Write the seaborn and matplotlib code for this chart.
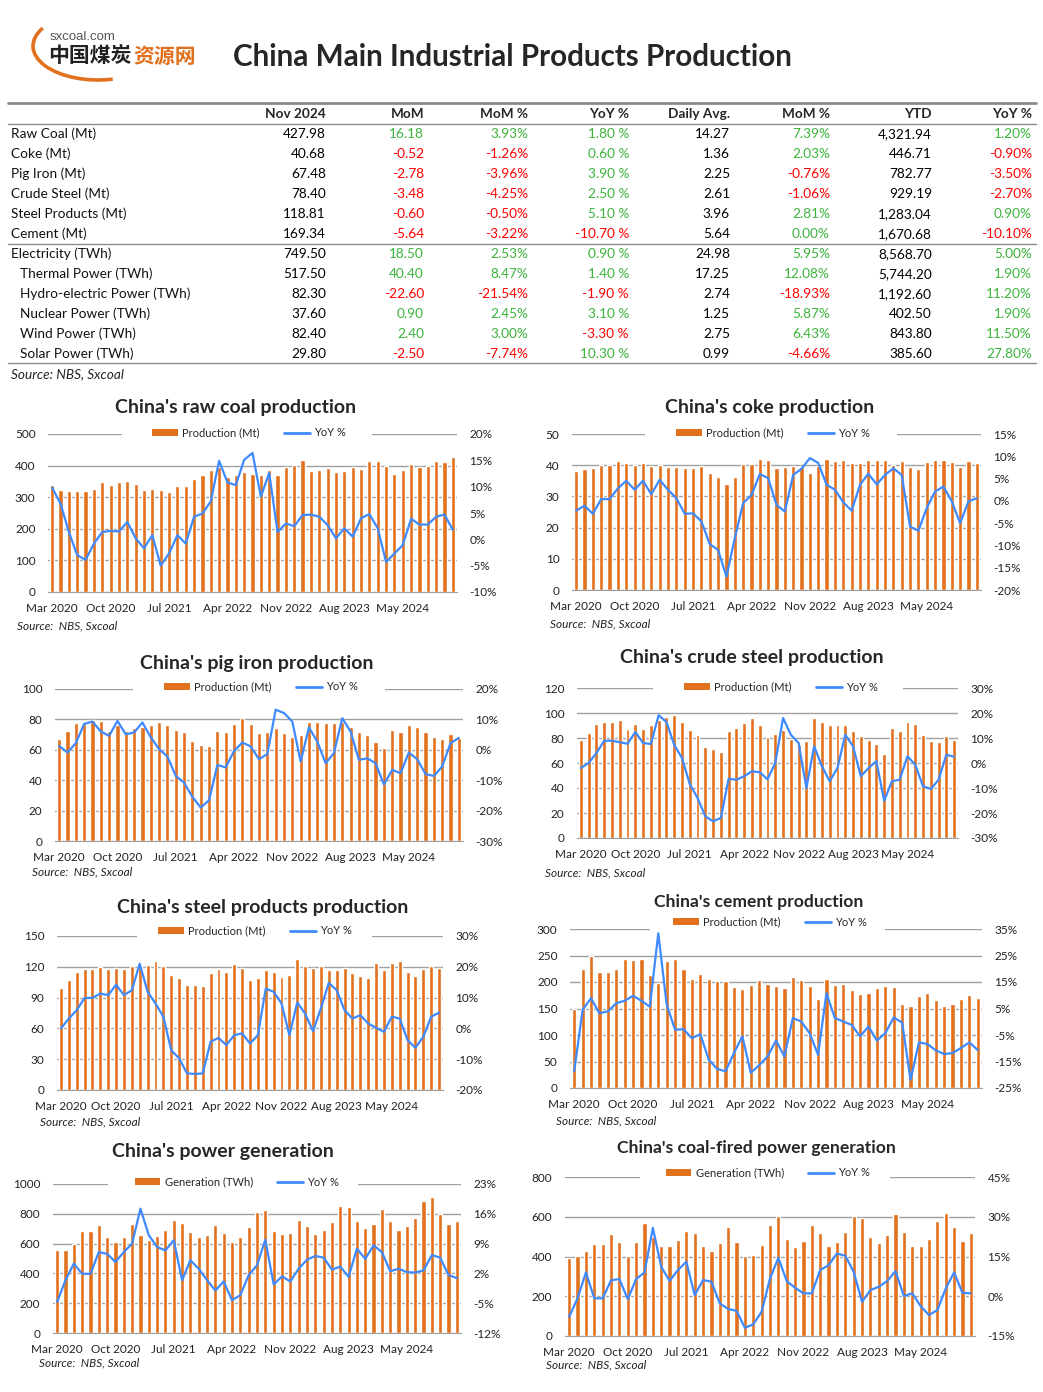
import calendar
import numpy as np
import seaborn as sns
import matplotlib.pyplot as plt
from matplotlib.patches import Patch, Rectangle, Arc
from matplotlib.lines import Line2D
from matplotlib.ticker import FuncFormatter

sns.set_style("white")
plt.rcParams['font.family'] = ['Lato', 'DejaVu Sans']

ORANGE = '#E2711D'
BLUE = '#3F8AFF'
GRID = '#A0A0A0'
GREEN = '#3CB43C'
RED = '#FF0000'

# months: Mar 2020 .. Nov 2024, Jan/Feb not reported separately
months = []
for yr in range(2020, 2025):
    for m in range(3, 13):
        if yr == 2024 and m > 11:
            break
        months.append(f"{calendar.month_abbr[m]} {yr}")

# Table data
items = ["Raw Coal (Mt)", "Coke (Mt)", "Pig Iron (Mt)", "Crude Steel (Mt)",
         "Steel Products (Mt)", "Cement (Mt)", "Electricity (TWh)",
         "Thermal Power (TWh)", "Hydro-electric Power (TWh)",
         "Nuclear Power (TWh)", "Wind Power (TWh)", "Solar Power (TWh)"]
indented = [False] * 7 + [True] * 5
nov_2024 = [427.98, 40.68, 67.48, 78.40, 118.81, 169.34, 749.50, 517.50, 82.30, 37.60, 82.40, 29.80]
mom = [16.18, -0.52, -2.78, -3.48, -0.60, -5.64, 18.50, 40.40, -22.60, 0.90, 2.40, -2.50]
mom_pct = [3.93, -1.26, -3.96, -4.25, -0.50, -3.22, 2.53, 8.47, -21.54, 2.45, 3.00, -7.74]
yoy_pct = [1.80, 0.60, 3.90, 2.50, 5.10, -10.70, 0.90, 1.40, -1.90, 3.10, -3.30, 10.30]
daily_avg = [14.27, 1.36, 2.25, 2.61, 3.96, 5.64, 24.98, 17.25, 2.74, 1.25, 2.75, 0.99]
daily_mom_pct = [7.39, 2.03, -0.76, -1.06, 2.81, 0.00, 5.95, 12.08, -18.93, 5.87, 6.43, -4.66]
ytd = [4321.94, 446.71, 782.77, 929.19, 1283.04, 1670.68, 8568.70, 5744.20, 1192.60, 402.50, 843.80, 385.60]
ytd_yoy = [1.20, -0.90, -3.50, -2.70, 0.90, -10.10, 5.00, 1.90, 11.20, 1.90, 11.50, 27.80]

# Chart data
raw_coal_prod = [339, 323, 320, 320, 320, 326, 347, 339, 347, 352,
                 342, 323, 326, 323, 317, 336, 337, 358, 371, 387,
                 396, 365, 371, 380, 374, 371, 387, 371, 394, 401,
                 418, 383, 387, 393, 380, 383, 394, 390, 415, 415,
                 400, 374, 387, 406, 394, 400, 415, 412, 428]
raw_coal_yoy = [9.8, 6.8, 1.4, -3.0, -3.9, -0.8, 1.4, 1.6, 1.5, 3.3,
                0.2, -1.7, 0.8, -5.0, -2.7, 0.8, -0.8, 4.3, 4.9, 7.2,
                14.9, 10.8, 10.3, 15.1, 16.4, 8.1, 12.6, 1.4, 3.0, 2.5,
                4.6, 4.7, 4.3, 2.7, 0.2, 2.1, 0.5, 4.0, 4.8, 2.1,
                -4.3, -2.7, -1.1, 3.9, 2.8, 2.8, 4.3, 4.7, 1.8]
coke_prod = [38.2, 38.9, 39.2, 40.1, 40.1, 41.4, 40.8, 40.1, 40.7, 39.8,
             40.1, 39.5, 39.5, 39.2, 39.2, 39.8, 37.6, 36.3, 33.9, 36.3,
             40.4, 40.5, 42.1, 41.8, 39.2, 39.5, 39.8, 39.5, 37.6, 39.6,
             42.0, 41.4, 41.7, 40.8, 40.8, 41.7, 41.7, 41.7, 40.1, 41.4,
             39.5, 38.9, 41.1, 41.7, 41.7, 41.1, 39.5, 41.4, 40.7]
coke_yoy = [-2.2, -1.1, -2.9, 0.4, 0.4, 2.8, 4.5, 2.5, 4.5, 1.5,
            4.7, 2.5, 0.6, -2.9, -2.8, -4.6, -9.7, -11.0, -17.0, -8.4,
            -0.5, 1.3, 6.0, 5.1, -0.9, -2.4, 5.8, 7.2, 9.6, 8.5,
            3.6, 2.5, -0.3, -2.2, 3.6, 6.1, 3.7, 5.8, 7.3, 5.8,
            -5.8, -6.7, -1.6, 2.1, 3.2, -0.1, -5.0, -0.1, 0.6]
pig_iron_prod = [67.0, 72.5, 77.5, 78.6, 79.3, 79.1, 72.5, 76.2, 72.5, 74.4,
                 74.9, 76.2, 78.4, 76.2, 73.1, 71.8, 65.9, 63.0, 62.6, 72.5,
                 71.8, 77.1, 80.8, 77.1, 71.1, 71.8, 74.4, 71.1, 68.5, 69.6,
                 78.4, 78.4, 77.8, 77.8, 78.4, 75.1, 71.8, 69.8, 65.2, 61.2,
                 73.1, 71.8, 76.4, 75.1, 71.8, 68.5, 67.2, 70.5, 67.5]
pig_iron_yoy = [1.3, -0.9, 2.2, 8.5, 9.3, 6.0, 4.6, 9.5, 5.1, 5.7,
                9.0, 4.1, 0.2, -2.2, -8.6, -10.8, -15.5, -19.0, -16.6, -5.0,
                -5.8, -0.4, 2.4, 1.1, -3.1, -1.4, 13.2, 12.1, 9.3, -3.9,
                7.4, 2.7, -4.4, -1.1, 10.4, 6.0, -3.3, -2.8, -4.4, -11.4,
                -6.6, -7.7, -0.9, -3.1, -8.0, -8.6, -5.5, 2.2, 3.9]
crude_steel_prod = [78.7, 84.3, 91.5, 93.1, 93.1, 94.7, 87.5, 91.5, 87.5, 90.7,
                    94.1, 97.1, 98.7, 93.1, 86.7, 82.7, 73.1, 71.5, 69.1, 85.9,
                    88.3, 92.3, 96.3, 90.7, 81.1, 83.5, 86.7, 79.5, 74.4, 77.9,
                    95.7, 92.5, 90.1, 90.7, 90.7, 85.9, 81.9, 78.7, 75.5, 67.5,
                    88.3, 85.9, 93.1, 91.5, 82.7, 77.9, 77.1, 81.9, 78.4]
crude_steel_yoy = [-2.0, 0.0, 4.0, 8.9, 8.9, 8.3, 7.7, 12.4, 8.0, 7.6,
                   19.1, 16.4, 7.3, 2.0, -8.4, -14.0, -21.3, -23.3, -22.0, -6.3,
                   -6.7, -5.3, -3.3, -3.7, -6.5, 0.0, 18.0, 11.3, 8.0, -10.0,
                   6.7, -1.3, -7.3, -2.0, 11.3, 6.7, -5.3, -2.0, 0.7, -15.1,
                   -7.3, -6.7, 2.7, -0.7, -9.3, -10.4, -6.7, 3.3, 2.5]
steel_prod = [99.1, 106.9, 114.7, 117.6, 117.6, 119.5, 117.6, 118.6, 117.6, 120.5,
              121.0, 121.5, 125.4, 120.5, 111.8, 108.8, 102.0, 102.0, 101.1, 113.7,
              117.6, 114.7, 122.5, 118.6, 106.9, 108.8, 116.6, 114.7, 109.8, 111.8,
              127.3, 120.5, 118.6, 120.5, 116.6, 116.6, 118.6, 113.7, 110.8, 108.8,
              123.4, 116.6, 123.4, 125.4, 114.7, 110.8, 117.6, 120.5, 118.8]
steel_yoy = [0.0, 3.2, 5.9, 9.9, 9.9, 11.3, 10.8, 14.2, 10.8, 12.4,
             21.0, 11.9, 8.1, 3.8, -7.1, -9.7, -14.6, -14.8, -14.6, -4.3,
             -3.1, -5.4, -2.2, -1.6, -4.9, -2.2, 12.9, 11.9, 8.1, -2.2,
             8.4, 4.8, -0.9, 6.5, 14.8, 12.4, 5.9, 3.2, 4.3, 1.6,
             0.2, -1.1, 3.8, 3.2, -3.8, -6.3, -2.7, 3.8, 5.1]
cement_prod = [149.4, 224.7, 249.2, 218.5, 218.5, 224.7, 242.9, 241.7, 243.6, 213.4,
               197.7, 240.4, 243.6, 224.7, 205.9, 214.7, 205.9, 201.5, 201.5, 190.8,
               187.7, 194.6, 204.0, 196.5, 192.7, 189.6, 210.3, 204.0, 192.7, 168.2,
               205.9, 194.6, 196.5, 185.2, 177.7, 179.5, 189.6, 192.7, 190.8, 158.8,
               155.0, 173.9, 179.5, 165.1, 155.0, 158.8, 168.2, 175.8, 169.3]
cement_yoy = [-18.7, 4.5, 8.9, 3.2, 3.9, 7.0, 7.9, 9.8, 7.9, 5.7,
              33.4, 6.4, -3.0, -2.8, -6.2, -4.7, -14.3, -17.8, -18.7, -11.8,
              -5.5, -19.3, -16.4, -13.1, -7.1, -13.1, 1.4, 0.1, -4.3, -12.5,
              10.8, 1.4, 0.1, -1.2, -5.5, -1.8, -7.1, -4.3, 1.6, -0.3,
              -21.9, -7.8, -8.4, -10.8, -12.2, -11.8, -9.9, -7.8, -10.7]
power_gen = [555, 555, 597, 682, 682, 723, 642, 609, 642, 729,
             655, 622, 649, 689, 756, 736, 676, 642, 655, 723,
             669, 609, 642, 709, 810, 823, 682, 662, 669, 756,
             716, 662, 689, 743, 850, 843, 749, 702, 729, 830,
             749, 689, 716, 770, 884, 911, 801, 729, 750]
power_yoy = [-4.7, 0.4, 4.3, 1.9, 1.9, 7.0, 6.6, 4.7, 7.0, 9.0,
             17.2, 11.0, 8.2, 7.4, 9.8, 0.4, 5.1, 3.1, 0.4, -2.0,
             0.1, -4.3, -3.1, 1.6, 3.9, 9.9, -0.6, 1.3, 0.1, 3.1,
             5.2, 6.1, 5.7, 2.9, 3.6, 1.2, 7.8, 5.4, 8.6, 7.0,
             2.5, 3.1, 2.3, 2.2, 2.7, 6.3, 5.7, 1.6, 0.9]
coal_power_gen = [392, 402, 427, 462, 462, 512, 472, 402, 472, 567,
                  497, 452, 452, 482, 527, 517, 452, 427, 467, 547,
                  472, 402, 407, 457, 557, 604, 487, 447, 477, 557,
                  517, 452, 472, 522, 604, 594, 497, 467, 507, 613,
                  522, 452, 452, 487, 577, 618, 547, 477, 517]
coal_power_yoy = [-7.7, -0.8, 9.0, -0.8, -0.8, 6.0, 6.5, -1.1, 6.5, 9.0,
                  25.8, 11.1, 5.8, 9.9, 13.0, 0.4, 6.1, 5.5, -2.7, -4.8,
                  -5.5, -11.9, -10.6, -5.8, 6.7, 14.5, 5.7, 3.2, 1.1, 1.1,
                  9.9, 11.7, 16.1, 15.3, 9.2, -2.1, 2.3, 3.6, 5.7, 9.5,
                  0.1, 1.1, -3.7, -7.1, -5.2, 2.9, 9.0, 1.3, 1.1]

W, H = 1043, 1392
fig = plt.figure(figsize=(W / 100, H / 100), dpi=100)
fig.patch.set_facecolor('white')

# overlay axes in pixel units for header, table, titles
ax0 = fig.add_axes([0, 0, 1, 1])
ax0.set_xlim(0, W)
ax0.set_ylim(H, 0)
ax0.axis('off')

# logo
ax0.add_patch(Arc((98, 46), 130, 68, theta1=66, theta2=198, color=ORANGE, lw=2.6))
ax0.text(50, 37, "sxcoal.com", fontsize=9.5, color='#555555', va='center', ha='left',
         family=['Liberation Sans', 'DejaVu Sans'])
ax0.text(48, 56, "中国煤炭", fontsize=15, fontweight='bold', color='#222222',
         va='center', ha='left', family=['Noto Sans CJK SC', 'DejaVu Sans'])
ax0.text(133, 56, "资源网", fontsize=15, fontweight='bold', color=ORANGE,
         va='center', ha='left', family=['Noto Sans CJK SC', 'DejaVu Sans'])

ax0.text(512, 57, "China Main Industrial Products Production", fontsize=21.3,
         fontweight='bold', ha='center', va='center')

# table
ax0.plot([8, 1036], [103, 103], color='#8C8C8C', lw=2)
for yy in [123.5, 243.5, 363]:
    ax0.plot([8, 1036], [yy, yy], color='#8C8C8C', lw=1)

TFS = 9.8
columns = [
    ("Nov 2024", nov_2024, "{:.2f}", False, 326),
    ("MoM", mom, "{:.2f}", True, 424),
    ("MoM %", mom_pct, "{:.2f}%", True, 528),
    ("YoY %", yoy_pct, "{:.2f} %", True, 629),
    ("Daily Avg.", daily_avg, "{:.2f}", False, 730),
    ("MoM %", daily_mom_pct, "{:.2f}%", True, 830),
    ("YTD", ytd, "{:,.2f}", False, 932),
    ("YoY %", ytd_yoy, "{:.2f}%", True, 1032),
]
for header, vals, fmt, colored, xr in columns:
    ax0.text(xr, 114, header, fontsize=TFS, fontweight='bold', ha='right', va='center')
    for i, v in enumerate(vals):
        c = 'black'
        if colored:
            c = RED if v < 0 else GREEN
        ax0.text(xr, 134 + 20 * i, fmt.format(v), fontsize=TFS, color=c,
                 ha='right', va='center')
for i, name in enumerate(items):
    ax0.text(20 if indented[i] else 11, 134 + 20 * i, name, fontsize=TFS,
             ha='left', va='center', color='#111111')
ax0.text(11, 374, "Source: NBS, Sxcoal", fontsize=TFS, style='italic', ha='left', va='center')


def pct(v, pos):
    return f"{v:.0f}%"


def draw_chart(box, title, title_xy, src_xy, bars, yoy, lticks, rticks,
               label, leg_xy, gap, tsize=14):
    x0, y0, x1, y1 = box
    ax = fig.add_axes([x0 / W, 1 - y1 / H, (x1 - x0) / W, (y1 - y0) / H])
    idx = np.arange(len(bars))
    sns.barplot(x=idx, y=bars, color=ORANGE, saturation=1, width=0.5, ax=ax, zorder=2)
    ax.set_ylim(lticks[0], lticks[-1])
    ax.set_yticks(lticks)
    ax.yaxis.grid(True, color=GRID, lw=1)
    ax.set_axisbelow(True)
    for s in ['top', 'right', 'left']:
        ax.spines[s].set_visible(False)
    ax.spines['bottom'].set_color(GRID)
    ax.set_xticks(range(0, len(bars), 7))
    ax.set_xticklabels(months[::7])
    ax.set_xticks(np.arange(-0.5, len(bars), 7), minor=True)
    ax.tick_params(axis='x', which='major', length=0, pad=8, labelsize=8.5, colors='#222222')
    ax.tick_params(axis='x', which='minor', length=4, color=GRID, width=1)
    ax.tick_params(axis='y', length=0, pad=9, labelsize=8.5, colors='#222222')
    ax.set_xlabel('')
    ax.set_ylabel('')

    ax2 = ax.twinx()
    sns.lineplot(x=idx, y=yoy, ax=ax2, color=BLUE, lw=1.6)
    ax2.set_ylim(rticks[0], rticks[-1])
    ax2.set_yticks(rticks)
    ax2.yaxis.set_major_formatter(FuncFormatter(pct))
    ax2.tick_params(axis='y', length=0, pad=9, labelsize=8.5, colors='#222222')
    for s in ['top', 'right', 'left', 'bottom']:
        ax2.spines[s].set_visible(False)
    ax2.set_ylabel('')
    ax2.grid(False)
    ax.set_xlim(-0.5, len(bars) - 0.5)

    # white gap in the top gridline behind the legend
    gx0 = (gap[0] - x0) / (x1 - x0)
    gx1 = (gap[1] - x0) / (x1 - x0)
    ax2.add_patch(Rectangle((gx0, 0.985), gx1 - gx0, 0.03, transform=ax2.transAxes,
                            facecolor='white', edgecolor='none', zorder=5, clip_on=False))
    handles = [Patch(facecolor=ORANGE, edgecolor='none'), Line2D([0], [0], color=BLUE, lw=2)]
    fx = (leg_xy[0] - x0) / (x1 - x0)
    fy = 1 - (leg_xy[1] - y0) / (y1 - y0)
    leg = ax2.legend(handles, [label, "YoY %"], loc='center', bbox_to_anchor=(fx, fy),
                     ncol=2, frameon=False, fontsize=8, handlelength=2.3,
                     handleheight=0.6, handletextpad=0.4, columnspacing=2.2)
    leg.set_zorder(6)

    ax0.text(title_xy[0], title_xy[1], title, fontsize=tsize, fontweight='bold',
             ha='center', va='center')
    ax0.text(src_xy[0], src_xy[1], "Source:  NBS, Sxcoal", fontsize=8.5,
             style='italic', ha='left', va='center', color='#222222')


draw_chart((48, 434, 457, 592), "China's raw coal production", (236, 408), (17, 626),
           raw_coal_prod, raw_coal_yoy, list(range(0, 501, 100)), list(range(-10, 21, 5)),
           "Production (Mt)", (249, 433), (122, 372))
draw_chart((572, 434, 981, 590), "China's coke production", (770, 408), (550, 624),
           coke_prod, coke_yoy, list(range(0, 51, 10)), list(range(-20, 16, 5)),
           "Production (Mt)", (773, 433), (645, 897))
draw_chart((55, 689, 463, 841), "China's pig iron production", (257, 663), (32, 872),
           pig_iron_prod, pig_iron_yoy, list(range(0, 101, 20)), list(range(-30, 21, 10)),
           "Production (Mt)", (261, 687), (133, 385))
draw_chart((577, 688, 958, 838), "China's crude steel production", (752, 658), (545, 873),
           crude_steel_prod, crude_steel_yoy, list(range(0, 121, 20)), list(range(-30, 31, 10)),
           "Production (Mt)", (781, 687), (653, 903))
draw_chart((57, 936, 443, 1090), "China's steel products production", (263, 907), (40, 1122),
           steel_prod, steel_yoy, list(range(0, 151, 30)), list(range(-20, 31, 10)),
           "Production (Mt)", (255, 931), (137, 372))
draw_chart((570, 929, 982, 1088), "China's cement production", (759, 902), (556, 1121),
           cement_prod, cement_yoy, list(range(0, 301, 50)), list(range(-25, 36, 10)),
           "Production (Mt)", (770, 922), (650, 885), tsize=12.6)
draw_chart((53, 1184, 461, 1333), "China's power generation", (223, 1152), (39, 1363),
           power_gen, power_yoy, list(range(0, 1001, 200)), list(range(-12, 24, 7)),
           "Generation (TWh)", (237, 1182), (108, 358))
draw_chart((565, 1177, 975, 1336), "China's coal-fired power generation", (756, 1148), (546, 1365),
           coal_power_gen, coal_power_yoy, list(range(0, 801, 200)), list(range(-15, 46, 15)),
           "Generation (TWh)", (768, 1173), (640, 890), tsize=12.6)

fig.savefig("out.png", dpi=100, facecolor='white')
